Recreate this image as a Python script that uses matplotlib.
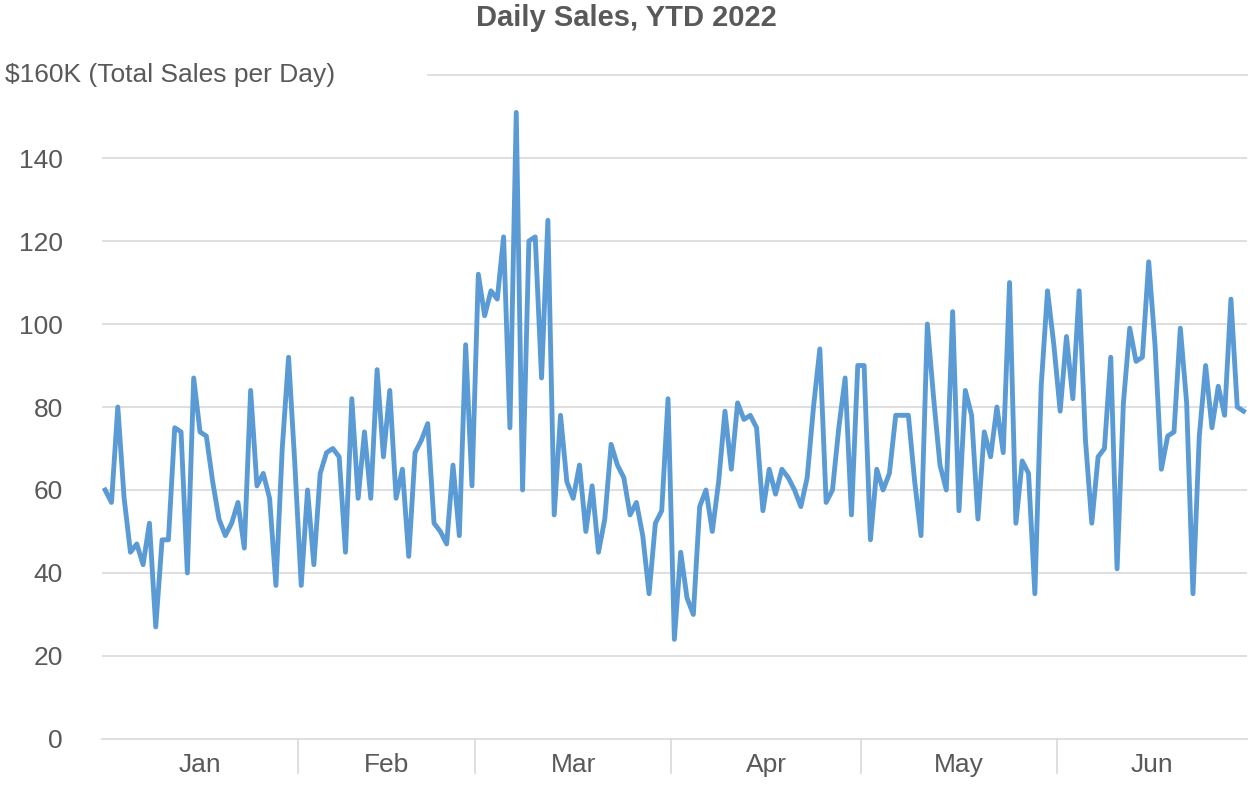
import numpy as np
import matplotlib.pyplot as plt

plt.rcParams['font.family'] = ['Liberation Sans', 'DejaVu Sans']

# daily sales in $K, Jan 1 - Jun 30 2022
jan = [60, 57, 80, 58, 45, 47, 42, 52, 27, 48, 48, 75, 74, 40, 87, 74, 73, 62, 53, 49,
       52, 57, 46, 84, 61, 64, 58, 37, 70, 92, 66]
feb = [37, 60, 42, 64, 69, 70, 68, 45, 82, 58, 74, 58, 89, 68, 84, 58, 65, 44, 69, 72,
       76, 52, 50, 47, 66, 49, 95, 61]
mar = [112, 102, 108, 106, 121, 75, 151, 60, 120, 121, 87, 125, 54, 78, 62, 58, 66, 50,
       61, 45, 53, 71, 66, 63, 54, 57, 49, 35, 52, 55, 82]
apr = [24, 45, 34, 30, 56, 60, 50, 62, 79, 65, 81, 77, 78, 75, 55, 65, 59, 65, 63, 60,
       56, 63, 80, 94, 57, 60, 75, 87, 54, 90]
may = [90, 48, 65, 60, 64, 78, 78, 78, 62, 49, 100, 82, 66, 60, 103, 55, 84, 78, 53, 74,
       68, 80, 69, 110, 52, 67, 64, 35, 85, 108, 95]
jun = [79, 97, 82, 108, 72, 52, 68, 70, 92, 41, 81, 99, 91, 92, 115, 95, 65, 73, 74, 99,
       81, 35, 73, 90, 75, 85, 78, 106, 80, 79]
months = ['Jan', 'Feb', 'Mar', 'Apr', 'May', 'Jun']
sales = jan + feb + mar + apr + may + jun
lengths = [len(m) for m in (jan, feb, mar, apr, may, jun)]

grey = '#595959'
fig = plt.figure(figsize=(12.53, 7.9), dpi=100)
ax = fig.add_axes([0.0814, 0.0646, 0.9136, 0.8404])

days = np.arange(len(sales))
ax.plot(days, sales, color='#5B9BD5', lw=3.5, solid_joinstyle='round')

ax.set_xlim(-0.5, len(sales) - 0.5)
ax.set_ylim(0, 160)
ax.set_yticks(range(0, 141, 20))
ax.tick_params(axis='y', length=0, labelsize=19, labelcolor=grey, pad=28)
for y in range(20, 141, 20):
    ax.axhline(y, color='#D9D9D9', lw=1.2, zorder=0)
ax.plot([0.285, 1], [1, 1], transform=ax.transAxes, color='#D9D9D9', lw=1.2, clip_on=False)
ax.text(-0.085, 1.0, '$160K (Total Sales per Day)', transform=ax.transAxes,
        ha='left', va='center', fontsize=19, color=grey)

bounds = np.cumsum([0] + lengths) - 0.5
centers = (bounds[:-1] + bounds[1:]) / 2
ax.set_xticks(centers)
ax.set_xticklabels(months)
ax.tick_params(axis='x', length=0, labelsize=19, labelcolor=grey, pad=10)
for b in bounds[1:-1]:
    ax.plot([b, b], [0, -0.052], transform=ax.get_xaxis_transform(),
            color='#D9D9D9', lw=1.2, clip_on=False)

for s in ['top', 'right', 'left']:
    ax.spines[s].set_visible(False)
ax.spines['bottom'].set_color('#D9D9D9')
ax.spines['bottom'].set_linewidth(1.2)

fig.suptitle('Daily Sales, YTD 2022', fontsize=21, fontweight='bold', color=grey, y=0.995)
fig.savefig('out.png')
